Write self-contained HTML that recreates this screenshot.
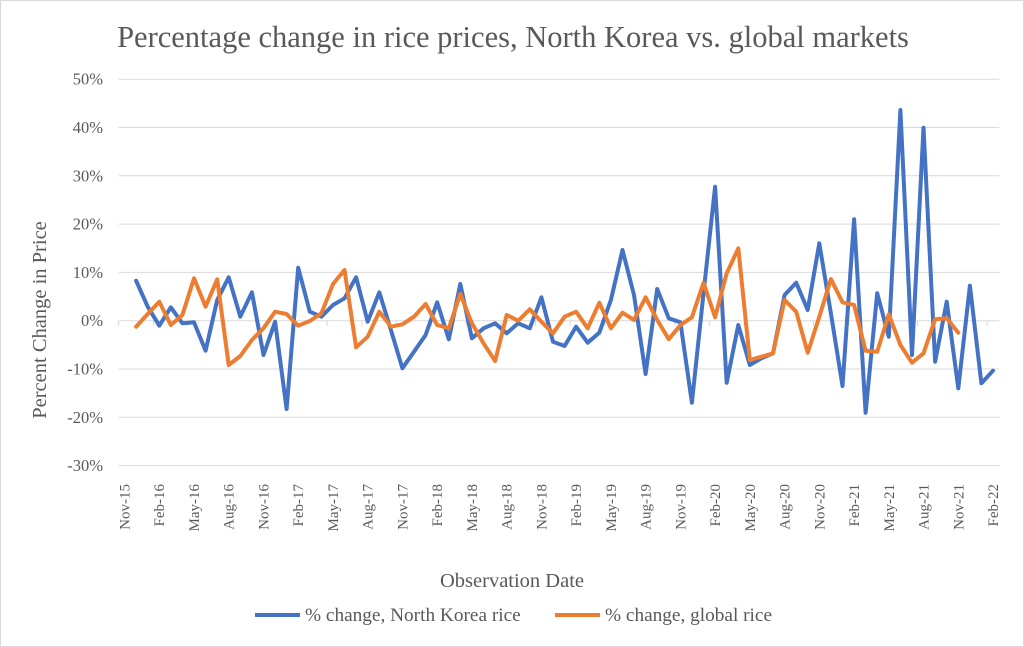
<!DOCTYPE html>
<html><head><meta charset="utf-8"><style>
html,body{margin:0;padding:0;background:#fff;}
svg{display:block;font-family:"Liberation Serif",serif;}
</style></head><body>
<svg id="s" width="1024" height="647" viewBox="0 0 1024 647" xmlns="http://www.w3.org/2000/svg">
<rect x="0.5" y="0.5" width="1023" height="646" fill="#fff" stroke="#d9d9d9"/>
<text x="513" y="47" text-anchor="middle" font-size="30.5" fill="#595959">Percentage change in rice prices, North Korea vs. global markets</text>
<g id="grid" stroke="#d9d9d9" stroke-width="1"></g>
<g id="ylab" font-size="16.5" fill="#595959" text-anchor="end"></g>
<g id="xlab" font-size="15" fill="#595959"></g>
<text transform="translate(46,320) rotate(-90)" text-anchor="middle" font-size="20.5" fill="#595959">Percent Change in Price</text>
<text x="512" y="587" text-anchor="middle" font-size="20.5" fill="#595959">Observation Date</text>
<polyline id="blue" fill="none" stroke="#4472C4" stroke-width="4" stroke-linejoin="round" stroke-linecap="round"/>
<polyline id="orange" fill="none" stroke="#ED7D31" stroke-width="4" stroke-linejoin="round" stroke-linecap="round"/>
<line x1="255" y1="615" x2="300" y2="615" stroke="#4472C4" stroke-width="4"/>
<text x="305" y="621" font-size="19.3" fill="#595959">% change, North Korea rice</text>
<line x1="555" y1="615" x2="600" y2="615" stroke="#ED7D31" stroke-width="4"/>
<text x="605" y="621" font-size="19.3" fill="#595959">% change, global rice</text>
</svg>
<script>
var NS="http://www.w3.org/2000/svg";
function y(v){return 320.7-v*4.83;}
var g=document.getElementById('grid'),yl=document.getElementById('ylab');
for(var v=-30;v<=50;v+=10){
 var l=document.createElementNS(NS,'line');l.setAttribute('x1',118.7);l.setAttribute('x2',999.3);
 l.setAttribute('y1',y(v));l.setAttribute('y2',y(v));g.appendChild(l);
 var t=document.createElementNS(NS,'text');t.setAttribute('x',103);t.setAttribute('y',y(v)+5.5);t.textContent=v+'%';yl.appendChild(t);
}
for(var k=0;k<=76;k+=3){var tk=document.createElementNS(NS,'line');var xx=118.7+11.58*k;
 tk.setAttribute('x1',xx);tk.setAttribute('x2',xx);tk.setAttribute('y1',320.7);tk.setAttribute('y2',326);g.appendChild(tk);}
var mon=['Nov','Feb','May','Aug'];var xl=document.getElementById('xlab');
for(var k=0;k<=75;k+=3){var idx=(k/3)%4;
 var year=15+Math.floor((10+k)/12);
 var t=document.createElementNS(NS,'text');var xx=124.5+11.58*k;
 t.setAttribute('transform','translate('+(xx+5)+',484) rotate(-90)');t.setAttribute('text-anchor','end');
 t.textContent=mon[idx]+'-'+year;xl.appendChild(t);}
var B=[662,740,797,742,790,787,872,720,652,770,697,885,785,1047,623,755,770,735,715,652,785,697,810,925,875,825,727,838,672,835,805,790,820,790,805,712,845,
858,800,848,818,720,570,705,942,687,775,787,1028,700,380,968,795,915,895,880,705,668,750,550,760,978,478,1058,700,830,150,885,203,905,725,985,677,970,932];
var O=[800,762,725,795,765,655,740,658,915,888,840,805,755,762,797,783,760,672,630,862,830,755,800,793,770,732,795,805,702,790,850,903,765,782,748,785,820,
770,755,805,728,805,758,780,712,780,838,795,772,668,772,640,565,900,890,880,720,755,878,770,657,727,735,872,875,763,855,908,880,778,775,818];
function pts(a){return a.map(function(v,i){return (136.1+11.58*i).toFixed(1)+','+(60+v/3).toFixed(1);}).join(' ');}
document.getElementById('blue').setAttribute('points',pts(B));
document.getElementById('orange').setAttribute('points',pts(O));
</script>
</body></html>
